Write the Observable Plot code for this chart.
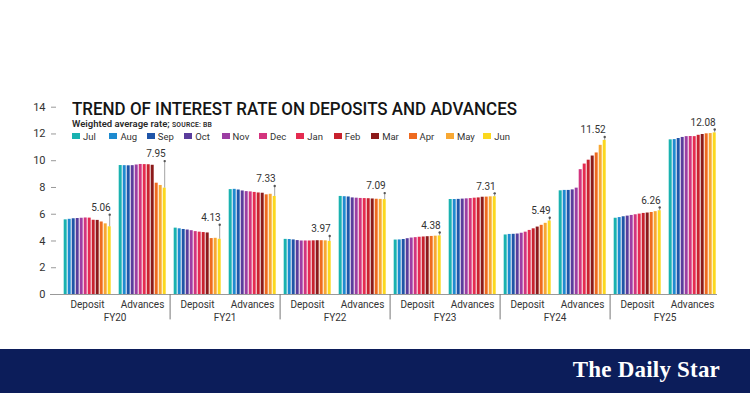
<!DOCTYPE html>
<html>
<head>
<meta charset="utf-8">
<script src="https://cdn.jsdelivr.net/npm/d3@7"></script>
<script src="https://cdn.jsdelivr.net/npm/@observablehq/plot@0.6"></script>
<style>
  html, body { margin: 0; padding: 0; background: #fff; }
  #wrap { position: relative; width: 750px; height: 393px; background: #fff; overflow: hidden; font-family: Roboto, "Noto Sans", sans-serif; }
  #chart { position: absolute; left: 0; top: 0; }
  #title { position: absolute; left: 72px; top: 100px; font-size: 18px; line-height: 18px; font-weight: 500; color: #151515; white-space: nowrap; transform-origin: left top; letter-spacing: 0; }
  #sub { position: absolute; left: 72px; top: 118px; font-size: 9.5px; line-height: 11px; font-weight: 600; color: #2a2a2a; white-space: nowrap; }
  #sub span { font-size: 6.8px; letter-spacing: 0.2px; }
  #legend { position: absolute; left: 72px; top: 131px; height: 10px; display: flex; align-items: center; font-size: 9.5px; color: #333; }
  .item { width: 37.4px; display: flex; align-items: center; white-space: nowrap; }
  .sw { width: 8px; height: 6px; margin-right: 3px; flex: none; }
  #band { position: absolute; left: 0; top: 349px; width: 750px; height: 44px; background: #0c1d5a; }
  #logo { position: absolute; right: 30px; top: 7px; font-family: "Liberation Serif", "DejaVu Serif", serif; font-weight: bold; font-size: 23px; line-height: 28px; color: #fff; letter-spacing: 0.2px; }
</style>
</head>
<body>
<div id="wrap">
  <div id="chart"></div>
  <div id="title">TREND OF INTEREST RATE ON DEPOSITS AND ADVANCES</div>
  <div id="sub">Weighted average rate; <span>SOURCE: BB</span></div>
  <div id="legend"></div>
  <div id="band"><div id="logo">The Daily Star</div></div>
</div>
<script>
const fiscalYears = ["FY20", "FY21", "FY22", "FY23", "FY24", "FY25"];
const rateTypes = ["Deposit", "Advances"];
const months = ["Jul", "Aug", "Sep", "Oct", "Nov", "Dec", "Jan", "Feb", "Mar", "Apr", "May", "Jun"];
const monthColors = ["#19b2b0", "#1e8bd0", "#1f55a8", "#5a3c9c", "#9c3ea3", "#d3347e", "#e52b50", "#c8222e", "#8c1a1a", "#ee6a1f", "#f8a833", "#fbd81e"];
const yTicks = [0, 2, 4, 6, 8, 10, 12, 14];

// Monthly weighted average rates, one row per fiscal year (Jul..Jun)
const depositRates = [
  [5.58, 5.62, 5.66, 5.68, 5.70, 5.72, 5.71, 5.55, 5.54, 5.42, 5.28, 5.06],
  [4.96, 4.91, 4.86, 4.82, 4.77, 4.70, 4.66, 4.63, 4.60, 4.18, 4.20, 4.13],
  [4.12, 4.11, 4.08, 4.03, 4.00, 4.00, 4.00, 4.01, 4.02, 4.02, 4.01, 3.97],
  [4.07, 4.08, 4.11, 4.17, 4.22, 4.25, 4.28, 4.30, 4.32, 4.34, 4.36, 4.38],
  [4.45, 4.49, 4.50, 4.52, 4.58, 4.66, 4.79, 4.91, 5.04, 5.17, 5.32, 5.49],
  [5.70, 5.75, 5.81, 5.86, 5.91, 5.96, 6.01, 6.06, 6.09, 6.13, 6.19, 6.26]
];
const advanceRates = [
  [9.64, 9.63, 9.62, 9.63, 9.68, 9.72, 9.71, 9.70, 9.66, 8.32, 8.15, 7.95],
  [7.84, 7.86, 7.81, 7.74, 7.69, 7.67, 7.63, 7.59, 7.57, 7.45, 7.49, 7.33],
  [7.33, 7.31, 7.29, 7.22, 7.20, 7.18, 7.17, 7.16, 7.14, 7.12, 7.11, 7.09],
  [7.10, 7.10, 7.11, 7.13, 7.15, 7.17, 7.20, 7.22, 7.27, 7.28, 7.30, 7.31],
  [7.75, 7.78, 7.78, 7.82, 7.95, 9.33, 9.75, 10.04, 10.35, 10.58, 11.15, 11.52],
  [11.56, 11.58, 11.66, 11.74, 11.80, 11.81, 11.80, 11.90, 11.96, 12.01, 12.03, 12.08]
];

const keys = fiscalYears.flatMap(fy => rateTypes.map(t => `${fy} ${t}`));
const rows = [];
const groups = [];
fiscalYears.forEach((fy, i) => {
  rateTypes.forEach(t => {
    const vals = t === "Deposit" ? depositRates[i] : advanceRates[i];
    const key = `${fy} ${t}`;
    vals.forEach((v, m) => rows.push({key, fy, type: t, month: months[m], value: v}));
    groups.push({key, fy, type: t, last: vals[vals.length - 1], top: d3.max(vals) + 0.25});
  });
});
const depositGroups = groups.filter(g => g.type === "Deposit");
const separatorGroups = groups.filter(g => g.type === "Advances" && g.fy !== fiscalYears[fiscalYears.length - 1]);

const chart = Plot.plot({
  width: 750,
  height: 349,
  marginTop: 106.7,
  marginBottom: 55,
  marginLeft: 63.3,
  marginRight: 33.3,
  style: {fontFamily: "Roboto, 'Noto Sans', sans-serif", background: "transparent", color: "#333"},
  fx: {domain: keys, paddingInner: 0.127, paddingOuter: 0, label: null},
  x: {domain: months, paddingInner: 0.14, paddingOuter: 0.04, axis: null},
  y: {domain: [0, 14], axis: null},
  color: {domain: months, range: monthColors},
  marks: [
    Plot.barY(rows, {fx: "key", x: "month", y: "value", fill: "month"}),
    Plot.frame({facet: "super", anchor: "bottom", insetLeft: -13, stroke: "#9a9a9a", strokeWidth: 1}),
    Plot.axisY({ticks: yTicks, tickSize: 5, tickPadding: 6, dx: -7, fontSize: 11, stroke: "#999", fill: "#333"}),
    Plot.axisFx({anchor: "bottom", tickSize: 0, tickPadding: 6, fontSize: 10, fill: "#333", tickFormat: k => k.split(" ")[1], label: null}),
    Plot.ruleX(groups, {fx: "key", x: () => "Jun", y1: "last", y2: "top", stroke: "#8a8a8a", strokeWidth: 0.8}),
    Plot.dot(groups, {fx: "key", x: () => "Jun", y: "top", r: 1.2, fill: "#555", stroke: null}),
    Plot.text(groups, {fx: "key", x: () => "Jun", y: "top", text: g => g.last.toFixed(2), dy: -7, dx: 1, textAnchor: "end", fontSize: 10, fill: "#333"}),
    Plot.text(depositGroups, {fx: "key", x: () => "Jun", y: () => -1.75, text: "fy", dx: 5.4, fontSize: 10, fill: "#333"}),
    Plot.ruleX(separatorGroups, {fx: "key", x: () => "Jun", y1: 0, y2: -1.9, dx: 5.4, stroke: "#777", strokeWidth: 1})
  ]
});
document.getElementById("chart").appendChild(chart);

const legend = document.getElementById("legend");
months.forEach((m, i) => {
  const item = document.createElement("div");
  item.className = "item";
  const sw = document.createElement("span");
  sw.className = "sw";
  sw.style.background = monthColors[i];
  const lab = document.createElement("span");
  lab.textContent = m;
  item.appendChild(sw);
  item.appendChild(lab);
  legend.appendChild(item);
});

const title = document.getElementById("title");
const w = title.getBoundingClientRect().width;
if (w > 0) title.style.transform = `scaleX(${445 / w})`;
</script>
</body>
</html>
